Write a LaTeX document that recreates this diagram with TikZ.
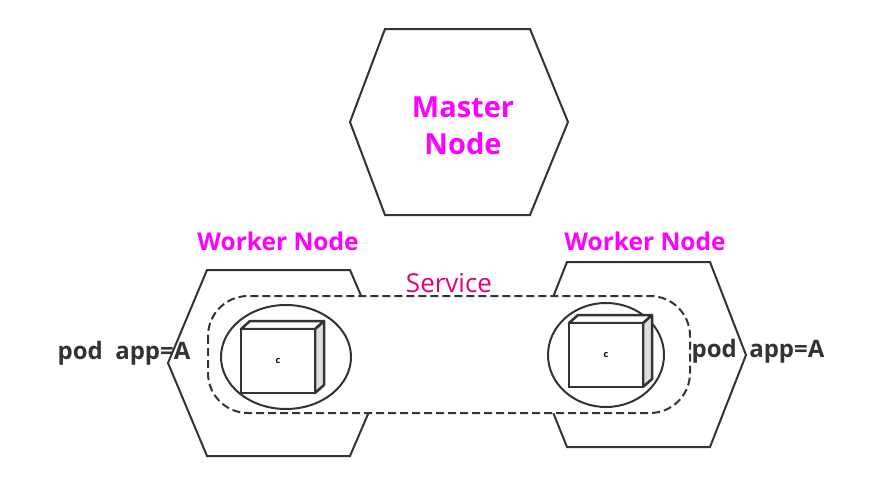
\documentclass[tikz,border=0pt]{standalone}
\usepackage{fontspec}
\setmainfont{Open Sans}
\definecolor{magentaText}{RGB}{255,0,255}
\definecolor{serviceText}{RGB}{230,0,120}
\definecolor{lineGray}{RGB}{51,51,51}
\begin{document}
\begin{tikzpicture}[x=1pt,y=-1pt,line width=2pt,draw=lineGray]
  \tikzstyle{hexa}=[draw=lineGray,fill=white]
  \tikzstyle{title}=[text=magentaText,font=\bfseries\fontsize{24.5}{28}\selectfont]
  \tikzstyle{podlabel}=[text=lineGray,font=\bfseries\fontsize{24}{28}\selectfont]
  \useasboundingbox (0,0) rectangle (876,477);

  % master
  \draw[hexa] (385,29) -- (530,29) -- (568,122) -- (530,215) -- (385,215) -- (350,122) -- cycle;
  \node[title,align=center,font=\bfseries\fontsize{29}{37}\selectfont] (master) at (463,126) {Master\\Node};

  % workers
  \draw[hexa] (207,270) -- (350,270) -- (390,363) -- (350,456) -- (207,456) -- (168,363) -- cycle;
  \draw[hexa] (567,262) -- (710,262) -- (746,355) -- (710,447) -- (567,447) -- (530,355) -- cycle;
  \node[title] (worker1) at (278,241) {Worker Node};
  \node[title] (worker2) at (645,241) {Worker Node};

  % service
  \draw[fill=white,dash pattern=on 8pt off 4pt,rounded corners=40pt] (208,296) rectangle (690,413);
  \node[text=serviceText,font=\fontsize{26}{30}\selectfont] (service) at (449,283) {Service};

  % pods
  \draw (286,357) ellipse [x radius=65,y radius=52];
  \draw (606,355) ellipse [x radius=58,y radius=52];
  \foreach \x/\y/\name in {241/329/podA, 569/323/podB}{
    \draw[fill=gray!25,line width=2.5pt,line join=round] (\x+74,\y) -- (\x+83,\y-8) -- (\x+83,\y+56) -- (\x+74,\y+64) -- cycle;
    \draw[fill=white,line width=2.5pt,line join=round] (\x,\y) -- (\x+9,\y-8) -- (\x+83,\y-8) -- (\x+74,\y) -- cycle;
    \draw[fill=white,line width=2.5pt] (\x,\y) rectangle (\x+74,\y+64);
    \node[font=\bfseries\fontsize{9}{10}\selectfont] (\name) at (\x+37,\y+32) {c};
  }
  \node[podlabel] (app1) at (124,353) {pod\ \ app=A};
  \node[podlabel] (app2) at (758,351) {pod\ \ app=A};
\end{tikzpicture}
\end{document}
